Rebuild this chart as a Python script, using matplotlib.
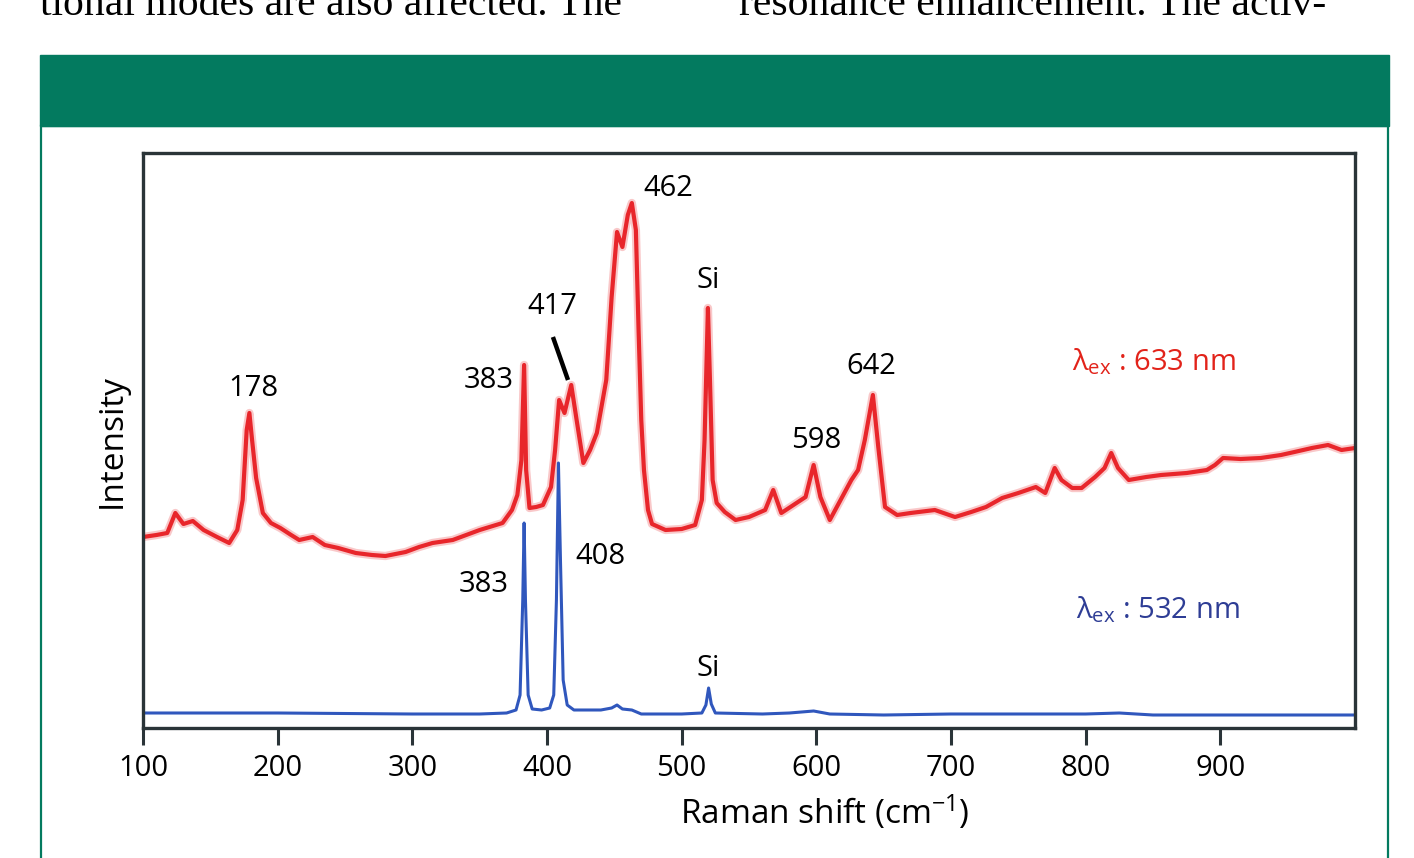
import matplotlib.pyplot as plt
import matplotlib.patheffects as pe
from matplotlib.patches import Rectangle

plt.rcParams['font.family'] = ['Open Sans', 'DejaVu Sans']
plt.rcParams['mathtext.fontset'] = 'custom'
plt.rcParams['mathtext.rm'] = 'Open Sans'
plt.rcParams['mathtext.it'] = 'Open Sans:italic'

# Raman spectrum (x in cm-1, intensity in arbitrary units)
red_shift = [100, 110, 118, 124, 130, 137, 145, 155, 164, 170, 174, 177, 179, 181,
             184, 189, 195, 202, 210, 216, 226, 235, 245, 258, 270, 280, 295, 305,
             315, 330, 350, 367, 374, 378, 381, 383, 384.5, 387, 392, 397, 403, 406,
             409, 413, 418, 422, 427, 432, 437, 444, 448, 452, 456, 460, 463, 466,
             468, 470, 472, 475, 478, 488, 500, 510, 515, 517, 519.5, 521, 523, 526,
             532, 540, 550, 562, 568, 574, 583, 592, 598, 603, 610, 618, 626, 631,
             636, 642, 646, 651, 660, 670, 688, 703, 715, 726, 738, 750, 763, 770,
             777, 782, 790, 797, 807, 814, 819, 824, 832, 845, 856, 875, 890, 896,
             902, 915, 930, 945, 955, 968, 980, 990, 1000]
red_int = [191, 193, 195, 215, 204, 207, 198, 191, 185, 198, 228, 298, 315, 288,
           250, 215, 205, 200, 193, 188, 191, 183, 180, 175, 173, 172, 176, 181,
           185, 188, 198, 205, 218, 233, 268, 363, 258, 220, 221, 223, 241, 278,
           328, 315, 343, 308, 265, 278, 295, 348, 431, 496, 481, 513, 525, 498,
           398, 308, 258, 218, 204, 198, 199, 203, 228, 288, 420, 348, 248, 225,
           216, 208, 211, 218, 238, 215, 223, 231, 263, 231, 208, 228, 248, 258,
           288, 333, 281, 221, 213, 215, 218, 211, 216, 221, 230, 235, 241, 235,
           260, 248, 240, 240, 251, 260, 275, 260, 248, 251, 253, 255, 258, 263,
           270, 269, 270, 273, 276, 280, 283, 278, 280]

blue_shift = [100, 200, 300, 350, 370, 377, 380, 382, 383, 384, 386, 389, 396, 402,
              405, 407, 408.5, 410, 412, 415, 420, 440, 448, 452, 456, 463, 470, 500,
              515, 518, 520, 522, 525, 560, 580, 598, 610, 650, 700, 750, 800, 825,
              850, 1000]
blue_int = [15, 15, 14, 14, 15, 18, 33, 128, 205, 128, 33, 19, 18, 20,
            33, 128, 265, 168, 48, 23, 18, 18, 20, 23, 19, 18, 14, 14,
            15, 23, 40, 24, 15, 14, 15, 17, 14, 13, 14, 14, 14, 15,
            13, 13]

x_ticks = [100, 200, 300, 400, 500, 600, 700, 800, 900]

RED = '#e8262b'
BLUE = '#3057bd'
GREEN = '#037a5f'
FRAME = '#2a3438'
FS = 21

fig = plt.figure(figsize=(14.14, 8.58), dpi=100)

# page text cut at the top
fig.text(40 / 1414, 1 - 15 / 858, 'tional modes are also affected. The',
         family='Liberation Serif', fontsize=30, va='baseline', ha='left')
fig.text(739 / 1414, 1 - 15 / 858, 'resonance enhancement. The activ-',
         family='Liberation Serif', fontsize=30, va='baseline', ha='left')

# green header bar and frame
fig.patches.append(Rectangle((40 / 1414, 1 - 126 / 858), 1349 / 1414, 71 / 858,
                             transform=fig.transFigure, color=GREEN, zorder=0))
fig.patches.append(Rectangle((41 / 1414, -0.01), 1347 / 1414, 1 - 126 / 858 + 0.01,
                             transform=fig.transFigure, fill=False,
                             edgecolor=GREEN, linewidth=1.6, zorder=0))

ax = fig.add_axes([143 / 1414, 1 - 728 / 858, 1212 / 1414, 575 / 858])
halo = [pe.Stroke(linewidth=6, foreground=RED, alpha=0.25), pe.Normal()]
ax.plot(red_shift, red_int, color=RED, linewidth=3, path_effects=halo)
ax.plot(blue_shift, blue_int, color=BLUE, linewidth=2.2)

ax.set_xlim(100, 1000)
ax.set_ylim(0, 575)
ax.set_xticks(x_ticks)
ax.set_yticks([])
ax.tick_params(axis='x', direction='out', length=12, width=2.2,
               color=FRAME, labelsize=FS, pad=7)
for s in ax.spines.values():
    s.set_color(FRAME)
    s.set_linewidth(2.4)

ax.set_xlabel('Raman shift (cm$^{-1}$)', fontsize=24, va='center')
ax.xaxis.set_label_coords(0.5627, -0.146)
ax.set_ylabel('Intensity', fontsize=24, va='center')
ax.yaxis.set_label_coords(-0.0256, 0.5)

# peak labels
ax.text(182, 340, '178', fontsize=FS, ha='center', va='center')
ax.text(357, 348, '383', fontsize=FS, ha='center', va='center')
ax.text(404, 422, '417', fontsize=FS, ha='center', va='center')
ax.plot([404.4, 415.6], [391, 348], color='black', linewidth=3.2,
        solid_capstyle='butt')
ax.text(490, 540, '462', fontsize=FS, ha='center', va='center')
ax.text(520, 448, 'Si', fontsize=FS, ha='center', va='center')
ax.text(641, 362, '642', fontsize=FS, ha='center', va='center')
ax.text(600, 287, '598', fontsize=FS, ha='center', va='center')
ax.text(353, 143, '383', fontsize=FS, ha='center', va='center')
ax.text(440, 172, '408', fontsize=FS, ha='center', va='center')
ax.text(519.5, 60, 'Si', fontsize=FS, ha='center', va='center')

ax.text(790, 366, r'λ$_{\rm ex}$ : 633 nm', fontsize=FS, color='#e2231a',
        ha='left', va='center')
ax.text(793, 118, r'λ$_{\rm ex}$ : 532 nm', fontsize=FS, color='#2e3d95',
        ha='left', va='center')

fig.savefig('out.png', dpi=100, facecolor='white')
